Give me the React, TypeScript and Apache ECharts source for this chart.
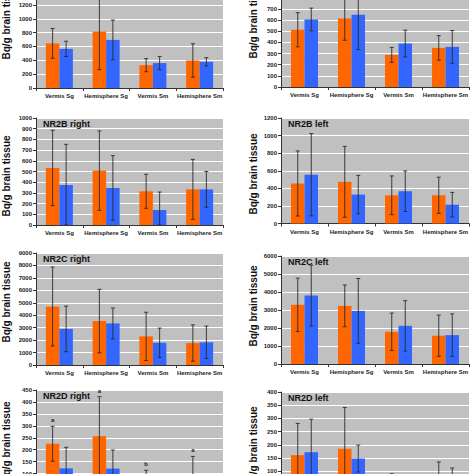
import React, { useEffect, useRef } from "react";
import * as echarts from "echarts";

const categories = ["Vermis Sg", "Hemisphere Sg", "Vermis Sm", "Hemisphere Sm"];

// Row 1 left (title cropped)
const nr2aRightOrange = [645, 815, 330, 398];
const nr2aRightOrangeSd = [215, 550, 95, 242];
const nr2aRightBlue = [566, 695, 360, 379];
const nr2aRightBlueSd = [110, 288, 96, 60];

// Row 1 right (title cropped)
const nr2aLeftOrange = [514, 615, 288, 351];
const nr2aLeftOrangeSd = [153, 195, 67, 110];
const nr2aLeftBlue = [606, 648, 390, 360];
const nr2aLeftBlueSd = [102, 312, 120, 147];

// NR2B right
const nr2bRightOrange = [533, 508, 315, 333];
const nr2bRightOrangeSd = [352, 371, 159, 280];
const nr2bRightBlue = [374, 346, 140, 333];
const nr2bRightBlueSd = [380, 302, 168, 167];

// NR2B left
const nr2bLeftOrange = [455, 474, 321, 321];
const nr2bLeftOrangeSd = [370, 403, 220, 206];
const nr2bLeftBlue = [555, 329, 367, 214];
const nr2bLeftBlueSd = [468, 218, 231, 140];

// NR2C right
const nr2cRightOrange = [4700, 3530, 2300, 1765];
const nr2cRightOrangeSd = [3170, 2550, 1940, 1460];
const nr2cRightBlue = [2900, 3340, 1790, 1820];
const nr2cRightBlueSd = [1830, 1240, 1175, 1300];

// NR2C left
const nr2cLeftOrange = [3290, 3230, 1790, 1570];
const nr2cLeftOrangeSd = [1480, 1160, 1040, 1145];
const nr2cLeftBlue = [3800, 2950, 2120, 1605];
const nr2cLeftBlueSd = [1690, 1800, 1400, 1180];

// NR2D right
const nr2dRightOrange = [225, 257, 60, 95];
const nr2dRightOrangeSd = [73, 165, 54, 77];
const nr2dRightBlue = [122, 121, 40, 50];
const nr2dRightBlueSd = [88, 78, 30, 30];
const nr2dRightLetters = ["a", "a", "b", "a"];

// NR2D left
const nr2dLeftOrange = [161, 185, 60, 70];
const nr2dLeftOrangeSd = [120, 156, 30, 65];
const nr2dLeftBlue = [172, 148, 50, 55];
const nr2dLeftBlueSd = [125, 51, 30, 57];

const panelTitles = ["", "", "NR2B right", "NR2B left", "NR2C right", "NR2C left", "NR2D right", "NR2D left"];
const yMaxes = [1600, 1000, 1000, 1200, 9000, 6000, 450, 400];
const yIntervals = [200, 100, 100, 200, 1000, 1000, 50, 50];
const yAxisTitle = "Bq/g brain tissue";

const panelData = [
  [nr2aRightOrange, nr2aRightOrangeSd, nr2aRightBlue, nr2aRightBlueSd, null],
  [nr2aLeftOrange, nr2aLeftOrangeSd, nr2aLeftBlue, nr2aLeftBlueSd, null],
  [nr2bRightOrange, nr2bRightOrangeSd, nr2bRightBlue, nr2bRightBlueSd, null],
  [nr2bLeftOrange, nr2bLeftOrangeSd, nr2bLeftBlue, nr2bLeftBlueSd, null],
  [nr2cRightOrange, nr2cRightOrangeSd, nr2cRightBlue, nr2cRightBlueSd, null],
  [nr2cLeftOrange, nr2cLeftOrangeSd, nr2cLeftBlue, nr2cLeftBlueSd, null],
  [nr2dRightOrange, nr2dRightOrangeSd, nr2dRightBlue, nr2dRightBlueSd, nr2dRightLetters],
  [nr2dLeftOrange, nr2dLeftOrangeSd, nr2dLeftBlue, nr2dLeftBlueSd, null],
] as const;

export default function App() {
  const ref = useRef<HTMLDivElement>(null);

  useEffect(() => {
    if (!ref.current) return;
    const chart = echarts.init(ref.current, null, { renderer: "svg" });
    const OFF = 60;
    const FONT = "'Liberation Sans', Arial, Helvetica, sans-serif";
    const BAR_W = 13.5;
    const CAP = 2;
    const ORANGE = "#ff6600";
    const BLUE = "#3366ff";

    const layout = [
      { left: 36, top: -22.7, width: 187, height: 110.7, nameX: 6, nameY: 19 },
      { left: 281, top: -24.4, width: 188, height: 111.4, nameX: 253, nameY: 18 },
      { left: 36, top: 118, width: 187, height: 107, nameX: 6, nameY: 176 },
      { left: 281, top: 118, width: 188, height: 105.5, nameX: 253, nameY: 174 },
      { left: 36, top: 253, width: 187, height: 112, nameX: 6, nameY: 302 },
      { left: 281, top: 256, width: 188, height: 108, nameX: 253, nameY: 306 },
      { left: 36, top: 390, width: 187, height: 107.5, nameX: 6, nameY: 442 },
      { left: 281, top: 392, width: 188, height: 105.6, nameX: 253, nameY: 447 },
    ];

    const grid = layout.map((l) => ({
      show: true,
      left: l.left,
      top: l.top + OFF,
      width: l.width,
      height: l.height,
      backgroundColor: "#c0c0c0",
      borderWidth: 0,
      outerBoundsMode: "none",
    }));

    const xAxis = layout.map((_, i) => ({
      type: "category",
      gridIndex: i,
      data: categories,
      axisLine: { show: true, lineStyle: { color: "#333", width: 1 } },
      axisTick: { show: true, length: 3, lineStyle: { color: "#333" } },
      axisLabel: {
        interval: 0,
        margin: 5,
        fontSize: 6,
        fontWeight: "bold",
        color: "#222",
        fontFamily: FONT,
      },
      splitLine: { show: false },
    }));

    const yAxis = layout.map((_, i) => ({
      type: "value",
      gridIndex: i,
      min: 0,
      max: yMaxes[i],
      interval: yIntervals[i],
      axisLine: { show: true, lineStyle: { color: "#333", width: 1 } },
      axisTick: { show: true, length: 3, lineStyle: { color: "#333" } },
      axisLabel: {
        margin: 4,
        fontSize: 6,
        fontWeight: "bold",
        color: "#222",
        fontFamily: FONT,
        formatter: (v: number) => String(v),
      },
      splitLine: { show: true, lineStyle: { color: "#ffffff", width: 1.2 } },
    }));

    const makeErr = (gi: number, means: readonly number[], sds: readonly number[], side: number, letters: readonly string[] | null) => ({
      type: "custom",
      xAxisIndex: gi,
      yAxisIndex: gi,
      z: 5,
      clip: true,
      silent: true,
      data: means.map((m, i) => [i, m, sds[i]]),
      encode: { x: 0, y: 1 },
      renderItem: (params: any, api: any) => {
        const c = api.value(0);
        const m = api.value(1);
        const s = api.value(2);
        const base = api.coord([c, m]);
        const x = base[0] + (side * BAR_W) / 2;
        const yTop = api.coord([c, m + s])[1];
        const yBot = api.coord([c, Math.max(0, m - s)])[1];
        const st = { stroke: "#2b2b2b", lineWidth: 0.9 };
        const children: any[] = [
          { type: "line", shape: { x1: x, y1: yTop, x2: x, y2: yBot }, style: st },
          { type: "line", shape: { x1: x - CAP, y1: yTop, x2: x + CAP, y2: yTop }, style: st },
          { type: "line", shape: { x1: x - CAP, y1: yBot, x2: x + CAP, y2: yBot }, style: st },
        ];
        const letter = letters ? letters[params.dataIndex] : "";
        if (letter) {
          children.push({
            type: "text",
            style: {
              text: letter,
              x,
              y: yTop - 3,
              align: "center",
              verticalAlign: "bottom",
              font: `bold 6px ${FONT}`,
              fill: "#222",
            },
          });
        }
        return { type: "group", children };
      },
    });

    const series: any[] = [];
    panelData.forEach((p, i) => {
      const [om, osd, bm, bsd, letters] = p as any;
      series.push({
        type: "bar",
        name: "orange",
        xAxisIndex: i,
        yAxisIndex: i,
        data: om,
        barWidth: BAR_W,
        barGap: "0%",
        itemStyle: { color: ORANGE },
        silent: true,
      });
      series.push({
        type: "bar",
        name: "blue",
        xAxisIndex: i,
        yAxisIndex: i,
        data: bm,
        barWidth: BAR_W,
        barGap: "0%",
        itemStyle: { color: BLUE },
        silent: true,
      });
      series.push(makeErr(i, om, osd, -1, letters));
      series.push(makeErr(i, bm, bsd, 1, null));
    });

    const title = layout
      .map((l, i) => ({ l, i }))
      .filter(({ i }) => panelTitles[i])
      .map(({ l, i }) => ({
        text: panelTitles[i],
        left: l.left + 7,
        top: l.top + OFF + 1,
        padding: 0,
        textStyle: { fontSize: 9, fontWeight: "bold", color: "#111", fontFamily: FONT },
      }));

    const graphic = layout.map((l) => ({
      type: "text",
      x: l.nameX,
      y: l.nameY + OFF,
      rotation: Math.PI / 2,
      style: {
        text: yAxisTitle,
        x: 0,
        y: 0,
        align: "center",
        verticalAlign: "middle",
        font: `bold 10px ${FONT}`,
        fill: "#111",
      },
      silent: true,
    }));

    chart.setOption({
      animation: false,
      backgroundColor: "#ffffff",
      textStyle: { fontFamily: FONT },
      title,
      grid,
      xAxis,
      yAxis,
      series,
      graphic,
    } as any);

    return () => {
      chart.dispose();
    };
  }, []);

  return (
    <div
      style={{
        position: "fixed",
        left: 0,
        top: 0,
        width: 474,
        height: 474,
        overflow: "hidden",
        background: "#fff",
      }}
    >
      <div ref={ref} style={{ position: "absolute", left: 0, top: -60, width: 474, height: 594 }} />
    </div>
  );
}
